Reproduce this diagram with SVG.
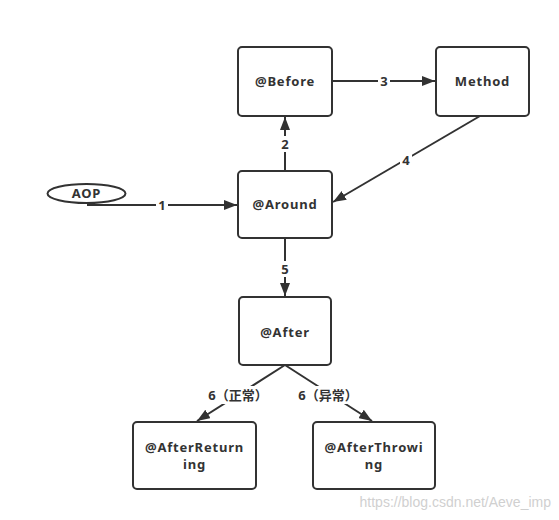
<svg xmlns="http://www.w3.org/2000/svg" width="559" height="520" viewBox="0 0 559 520">
<style>
.box{fill:#fff;stroke:#323232;stroke-width:2}
.t{font-family:"Noto Sans","Noto Sans CJK SC",sans-serif;font-weight:bold;font-size:13px;fill:#333;text-anchor:middle;dominant-baseline:central}
.n{letter-spacing:0.8px}
.e{stroke:#323232;stroke-width:2;fill:none;marker-end:url(#ah)}
.lb{fill:#fff}
</style>
<defs>
<marker id="ah" viewBox="0 0 13 10" refX="13" refY="5" markerWidth="13" markerHeight="10" markerUnits="userSpaceOnUse" orient="auto">
<path d="M0,0 L13,5 L0,10 Z" fill="#323232"/>
</marker>
</defs>
<rect width="559" height="520" fill="#fff"/>
<g id="connectors">
<path class="e" d="M87,205 L237,205"/>
<path class="e" d="M285,171 L285,117"/>
<path class="e" d="M332,81 L435,81"/>
<path class="e" d="M480,116 L333,202"/>
<path class="e" d="M285,238 L285,296"/>
<path class="e" d="M285,365 L197,421"/>
<path class="e" d="M285,365 L372,421"/>
<rect class="lb" x="156" y="197" width="12" height="16"/><text class="t" x="162" y="205">1</text>
<rect class="lb" x="279" y="136" width="12" height="16"/><text class="t" x="285" y="144">2</text>
<rect class="lb" x="378" y="73" width="12" height="16"/><text class="t" x="384" y="81">3</text>
<rect class="lb" x="400" y="152" width="12" height="16"/><text class="t" x="406" y="160">4</text>
<rect class="lb" x="279" y="261" width="12" height="16"/><text class="t" x="285" y="269">5</text>
<rect class="lb" x="207" y="386" width="62" height="18"/><text class="t" x="238" y="395">6（正常）</text>
<rect class="lb" x="297" y="386" width="62" height="18"/><text class="t" x="328" y="395">6（异常）</text>
</g>
<g id="aop"><ellipse class="box" cx="86.5" cy="193.5" rx="39" ry="9.5"/><text class="t n" x="86.5" y="193">AOP</text></g>
<g id="before"><rect class="box" x="238" y="47" width="94" height="69" rx="4"/><text class="t n" x="285" y="81">@Before</text></g>
<g id="method"><rect class="box" x="436" y="47" width="93" height="69" rx="4"/><text class="t n" x="482.5" y="81">Method</text></g>
<g id="around"><rect class="box" x="238" y="171" width="94" height="67" rx="4"/><text class="t n" x="285" y="204">@Around</text></g>
<g id="after"><rect class="box" x="239" y="297" width="92" height="68" rx="4"/><text class="t n" x="285" y="332">@After</text></g>
<g id="afterReturning"><rect class="box" x="133" y="422" width="123" height="67" rx="4"/><text class="t n" x="194.5" y="447">@AfterReturn</text><text class="t n" x="194.5" y="464">ing</text></g>
<g id="afterThrowing"><rect class="box" x="313" y="422" width="122" height="67" rx="4"/><text class="t n" x="374" y="447">@AfterThrowi</text><text class="t n" x="374" y="464">ng</text></g>
<text x="551" y="507" font-family="'Liberation Sans',sans-serif" font-size="14" fill="#d0d0d0" text-anchor="end">https://blog.csdn.net/Aeve_imp</text>
</svg>
